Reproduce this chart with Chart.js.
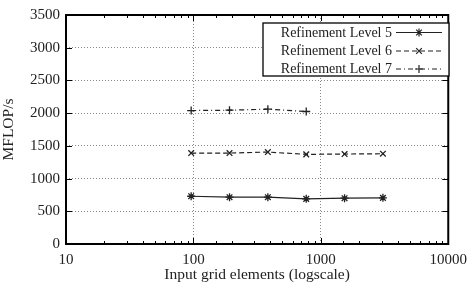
<!DOCTYPE html>
<html>
<head>
<meta charset="utf-8">
<script src="https://cdn.jsdelivr.net/npm/chart.js@4/dist/chart.umd.min.js"></script>
<style>
  html, body { margin: 0; padding: 0; background: #fff; }
  #wrap { width: 474px; height: 284px; }
</style>
</head>
<body>
<div id="wrap"><canvas id="mflopChart"></canvas></div>
<script>
const gridElements = [96, 192, 384, 768, 1536, 3072];
const level5 = [730, 715, 715, 690, 700, 705];
const level6 = [1390, 1390, 1405, 1370, 1375, 1380];
const level7 = [2040, 2045, 2060, 2025];
const seriesNames = ['Refinement Level 5', 'Refinement Level 6', 'Refinement Level 7'];
const xTickLabels = [10, 100, 1000, 10000];

const FONT = 'Liberation Serif, Times New Roman, serif';

function toPoints(values) {
    return values.map((v, i) => ({ x: gridElements[i], y: v }));
}

function isDecade(v) {
    return xTickLabels.indexOf(v) !== -1;
}

// frame + inward ticks (gnuplot look)
const framePlugin = {
    id: 'framePlugin',
    afterDraw(chart) {
        const { ctx, chartArea: { top, bottom, left, right }, scales: { x, y } } = chart;
        ctx.save();
        ctx.strokeStyle = '#000';
        ctx.lineWidth = 1;
        ctx.beginPath();
        x.ticks.forEach(t => {
            const px = Math.round(x.getPixelForValue(t.value)) + 0.5;
            const len = isDecade(t.value) ? 6 : 3;
            ctx.moveTo(px, bottom); ctx.lineTo(px, bottom - len);
            ctx.moveTo(px, top); ctx.lineTo(px, top + len);
        });
        y.ticks.forEach(t => {
            const py = Math.round(y.getPixelForValue(t.value)) + 0.5;
            ctx.moveTo(left, py); ctx.lineTo(left + 6, py);
            ctx.moveTo(right, py); ctx.lineTo(right - 6, py);
        });
        ctx.stroke();
        ctx.lineWidth = 2;
        ctx.strokeRect(left, top, right - left, bottom - top);
        ctx.restore();
    }
};

// legend box, text on left and sample on right
const legendPlugin = {
    id: 'legendPlugin',
    afterDraw(chart) {
        const { ctx } = chart;
        const boxL = 263, boxT = 23, boxR = 449, boxB = 76;
        const rows = [32, 50.5, 68.5];
        ctx.save();
        ctx.fillStyle = '#fff';
        ctx.fillRect(boxL, boxT, boxR - boxL, boxB - boxT);
        ctx.strokeStyle = '#000';
        ctx.lineWidth = 1.3;
        ctx.strokeRect(boxL, boxT, boxR - boxL, boxB - boxT);
        ctx.font = '14px ' + FONT;
        ctx.textAlign = 'right';
        ctx.textBaseline = 'middle';
        chart.data.datasets.forEach((ds, i) => {
            const yy = rows[i];
            ctx.fillStyle = '#222';
            ctx.fillText(ds.label, 392, yy + 1);
            ctx.strokeStyle = ds.borderColor;
            ctx.lineWidth = ds.borderWidth;
            ctx.setLineDash(ds.borderDash || []);
            ctx.beginPath();
            ctx.moveTo(396, yy + 0.5);
            ctx.lineTo(442, yy + 0.5);
            ctx.stroke();
            ctx.setLineDash([]);
            Chart.helpers.drawPoint(ctx, {
                pointStyle: ds.pointStyle,
                radius: ds.pointRadius,
                borderWidth: 1
            }, 419, yy + 0.5);
        });
        ctx.restore();
    }
};

function createChart() {
    const el = document.getElementById('mflopChart');

    const data = {
        datasets: [{
            label: seriesNames[0],
            data: toPoints(level5),
            borderColor: '#222',
            backgroundColor: '#222',
            borderWidth: 1.2,
            pointStyle: 'star',
            pointRadius: 4,
            pointBorderWidth: 1.3
        }, {
            label: seriesNames[1],
            data: toPoints(level6),
            borderColor: '#222',
            backgroundColor: '#222',
            borderWidth: 1.2,
            borderDash: [5, 3],
            pointStyle: 'crossRot',
            pointRadius: 4,
            pointBorderWidth: 1.3
        }, {
            label: seriesNames[2],
            data: toPoints(level7),
            borderColor: '#222',
            backgroundColor: '#222',
            borderWidth: 1.2,
            borderDash: [5, 3, 1, 3],
            pointStyle: 'cross',
            pointRadius: 4,
            pointBorderWidth: 1.3
        }]
    };

    const config = {
        type: 'line',
        data,
        options: {
            responsive: false,
            animation: false,
            layout: { padding: { top: 13, right: 20, left: 0, bottom: 0 } },
            plugins: {
                legend: { display: false },
                tooltip: { enabled: false }
            },
            scales: {
                x: {
                    type: 'logarithmic',
                    min: 10,
                    max: 10000,
                    afterFit(scale) { scale.height = 40; },
                    border: { display: false, dash: [1, 2] },
                    grid: {
                        drawTicks: false,
                        color: c => (c.tick && isDecade(c.tick.value)) ? '#888' : 'rgba(0,0,0,0)'
                    },
                    ticks: {
                        autoSkip: false,
                        maxRotation: 0,
                        padding: 7,
                        color: '#222',
                        font: { family: FONT, size: 15 },
                        callback: v => isDecade(v) ? String(v) : ''
                    },
                    title: {
                        display: true,
                        text: 'Input grid elements (logscale)',
                        color: '#222',
                        font: { family: FONT, size: 15.5 },
                        padding: { top: 0, bottom: 0 }
                    }
                },
                y: {
                    min: 0,
                    max: 3500,
                    afterFit(scale) { scale.width = 66; },
                    border: { display: false, dash: [1, 2] },
                    grid: {
                        drawTicks: false,
                        color: '#888'
                    },
                    ticks: {
                        stepSize: 500,
                        padding: 6,
                        color: '#222',
                        font: { family: FONT, size: 15 },
                        callback: v => String(v)
                    },
                    title: {
                        display: true,
                        text: 'MFLOP/s',
                        color: '#222',
                        font: { family: FONT, size: 15.5 },
                        padding: { top: 0, bottom: 0 }
                    }
                }
            }
        },
        plugins: [framePlugin, legendPlugin]
    };

    el.width = 474;
    el.height = 284;
    new Chart(el, config);
}

createChart();
</script>
</body>
</html>
